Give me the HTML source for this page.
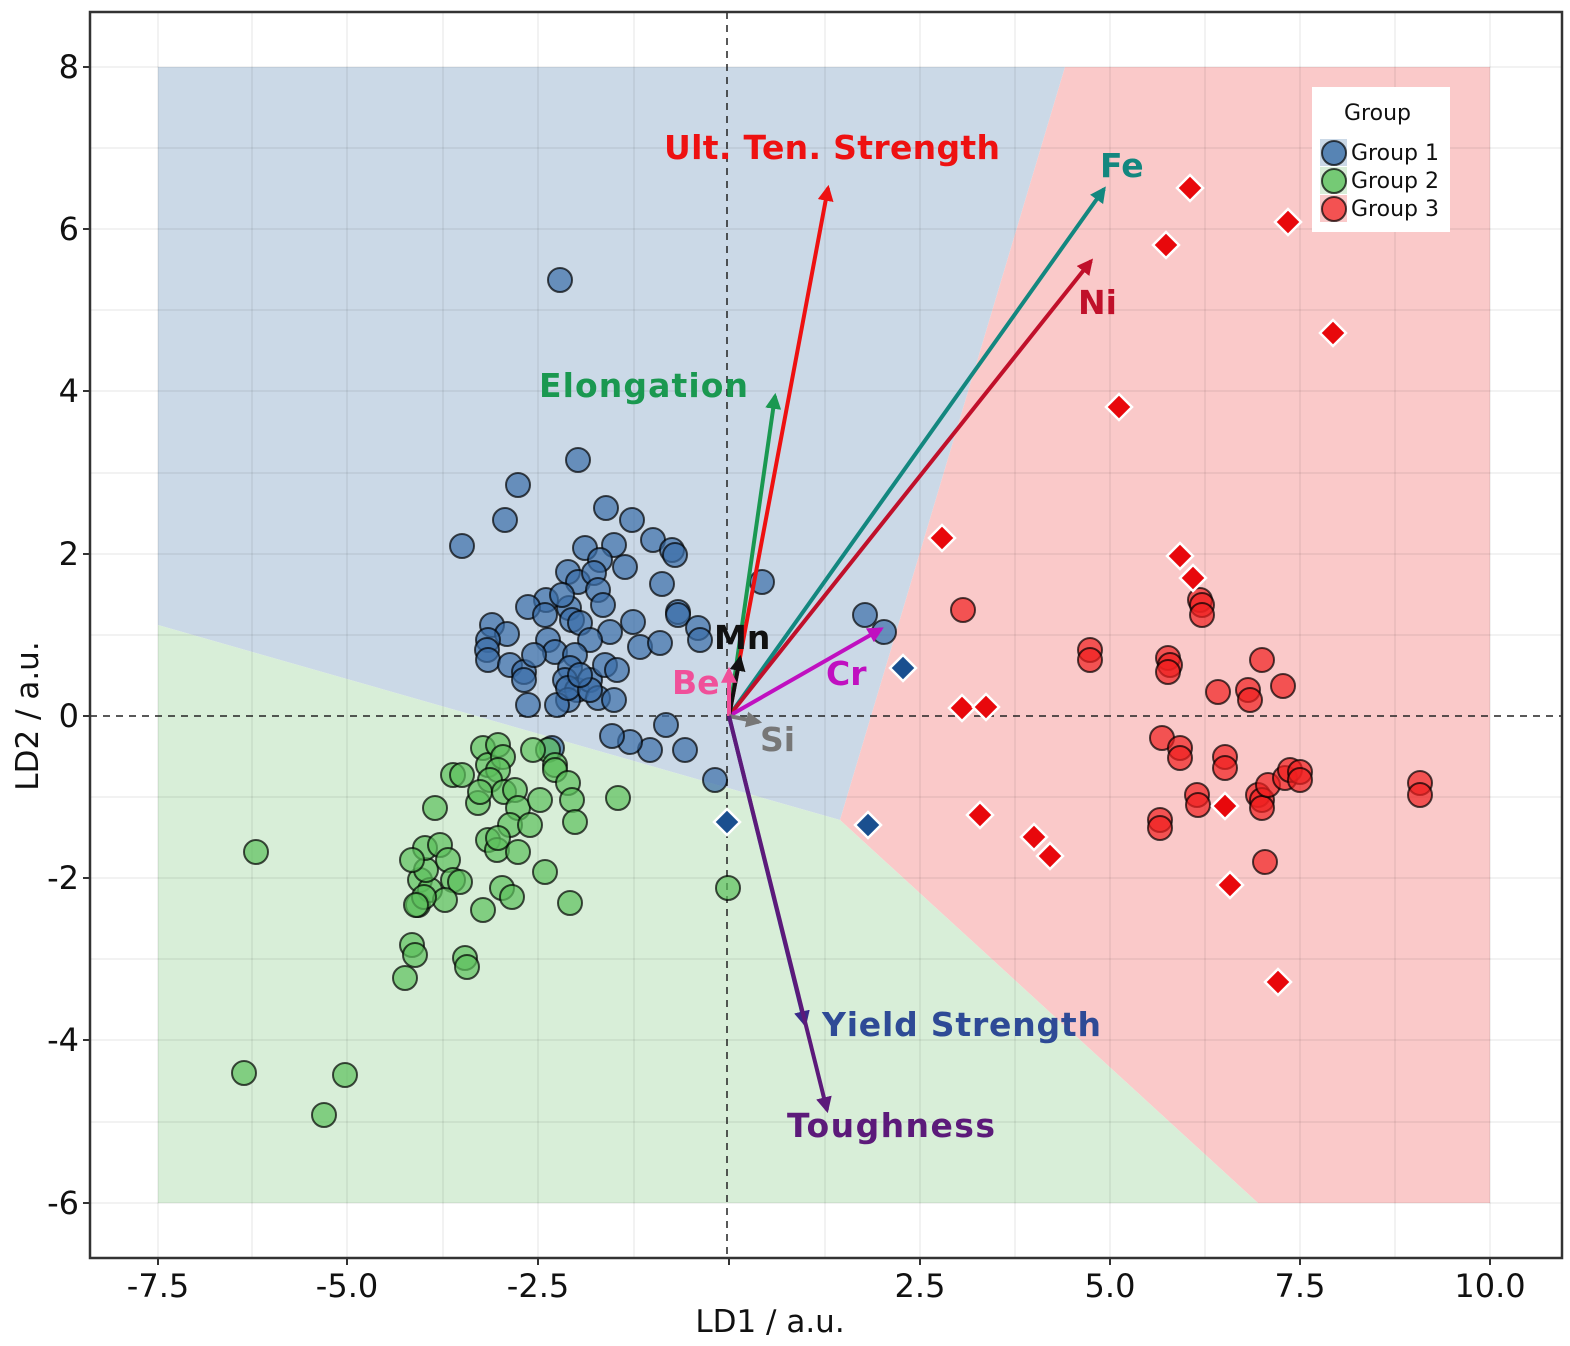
<!DOCTYPE html>
<html><head><meta charset="utf-8"><style>
body{margin:0;background:#fff}
svg text{font-family:"DejaVu Sans","Liberation Sans",sans-serif}
</style></head><body>
<svg width="1570" height="1341" viewBox="0 0 1570 1341" xmlns="http://www.w3.org/2000/svg">
<rect width="1570" height="1341" fill="#fff"/>
<polygon points="158,67 1065,67 840,820 158,625" fill="#cbd9e7"/>
<polygon points="1065,67 1490,67 1490,1203 1258,1203 840,820" fill="#fac9c9"/>
<polygon points="158,625 840,820 1258,1203 158,1203" fill="#d8eed8"/>
<g stroke="#000" stroke-opacity="0.07" stroke-width="1.5">
<line x1="158" y1="12" x2="158" y2="1258"/><line x1="252" y1="12" x2="252" y2="1258"/><line x1="347" y1="12" x2="347" y2="1258"/><line x1="443" y1="12" x2="443" y2="1258"/><line x1="538" y1="12" x2="538" y2="1258"/><line x1="634" y1="12" x2="634" y2="1258"/><line x1="825" y1="12" x2="825" y2="1258"/><line x1="920" y1="12" x2="920" y2="1258"/><line x1="1015" y1="12" x2="1015" y2="1258"/><line x1="1110" y1="12" x2="1110" y2="1258"/><line x1="1205" y1="12" x2="1205" y2="1258"/><line x1="1300" y1="12" x2="1300" y2="1258"/><line x1="1395" y1="12" x2="1395" y2="1258"/><line x1="1490" y1="12" x2="1490" y2="1258"/>
<line x1="90" y1="67" x2="1562" y2="67"/><line x1="90" y1="148" x2="1562" y2="148"/><line x1="90" y1="229" x2="1562" y2="229"/><line x1="90" y1="310" x2="1562" y2="310"/><line x1="90" y1="391" x2="1562" y2="391"/><line x1="90" y1="473" x2="1562" y2="473"/><line x1="90" y1="554" x2="1562" y2="554"/><line x1="90" y1="635" x2="1562" y2="635"/><line x1="90" y1="797" x2="1562" y2="797"/><line x1="90" y1="878" x2="1562" y2="878"/><line x1="90" y1="959" x2="1562" y2="959"/><line x1="90" y1="1040" x2="1562" y2="1040"/><line x1="90" y1="1122" x2="1562" y2="1122"/><line x1="90" y1="1203" x2="1562" y2="1203"/>
</g>
<line x1="727" y1="12" x2="727" y2="1258" stroke="#222" stroke-width="1.5" stroke-dasharray="7,6"/>
<line x1="90" y1="716" x2="1562" y2="716" stroke="#222" stroke-width="1.5" stroke-dasharray="7,6"/>
<g id="pts" stroke="#000" stroke-opacity="0.7" stroke-width="2">
<g fill="#3a6ea8" fill-opacity="0.7">
<circle cx="560" cy="280" r="12"/><circle cx="578" cy="460" r="12"/><circle cx="518" cy="485" r="12"/><circle cx="505" cy="520" r="12"/><circle cx="462" cy="546" r="12"/><circle cx="606" cy="508" r="12"/><circle cx="632" cy="520" r="12"/><circle cx="653" cy="540" r="12"/><circle cx="672" cy="550" r="12"/><circle cx="675" cy="555" r="12"/><circle cx="585" cy="548" r="12"/><circle cx="614" cy="545" r="12"/><circle cx="600" cy="560" r="12"/><circle cx="568" cy="572" r="12"/><circle cx="578" cy="582" r="12"/><circle cx="594" cy="573" r="12"/><circle cx="598" cy="590" r="12"/><circle cx="603" cy="605" r="12"/><circle cx="569" cy="608" r="12"/><circle cx="546" cy="600" r="12"/><circle cx="528" cy="607" r="12"/><circle cx="545" cy="615" r="12"/><circle cx="492" cy="625" r="12"/><circle cx="507" cy="634" r="12"/><circle cx="488" cy="640" r="12"/><circle cx="487" cy="650" r="12"/><circle cx="488" cy="660" r="12"/><circle cx="510" cy="665" r="12"/><circle cx="524" cy="672" r="12"/><circle cx="524" cy="680" r="12"/><circle cx="548" cy="640" r="12"/><circle cx="572" cy="620" r="12"/><circle cx="610" cy="632" r="12"/><circle cx="633" cy="622" r="12"/><circle cx="640" cy="647" r="12"/><circle cx="660" cy="643" r="12"/><circle cx="678" cy="612" r="12"/><circle cx="678" cy="615" r="12"/><circle cx="698" cy="628" r="12"/><circle cx="700" cy="640" r="12"/><circle cx="662" cy="584" r="12"/><circle cx="625" cy="567" r="12"/><circle cx="562" cy="595" r="12"/><circle cx="580" cy="623" r="12"/><circle cx="590" cy="640" r="12"/><circle cx="555" cy="652" r="12"/><circle cx="534" cy="655" r="12"/><circle cx="575" cy="655" r="12"/><circle cx="570" cy="668" r="12"/><circle cx="565" cy="680" r="12"/><circle cx="577" cy="690" r="12"/><circle cx="568" cy="700" r="12"/><circle cx="557" cy="705" r="12"/><circle cx="528" cy="705" r="12"/><circle cx="590" cy="680" r="12"/><circle cx="605" cy="665" r="12"/><circle cx="617" cy="670" r="12"/><circle cx="598" cy="698" r="12"/><circle cx="614" cy="700" r="12"/><circle cx="568" cy="688" r="12"/><circle cx="762" cy="582" r="12"/><circle cx="865" cy="615" r="12"/><circle cx="884" cy="632" r="12"/><circle cx="666" cy="725" r="12"/><circle cx="685" cy="750" r="12"/><circle cx="650" cy="750" r="12"/><circle cx="630" cy="742" r="12"/><circle cx="612" cy="736" r="12"/><circle cx="552" cy="748" r="12"/><circle cx="715" cy="780" r="12"/><circle cx="590" cy="690" r="12"/><circle cx="580" cy="675" r="12"/>
</g>
<g fill="#5cc05c" fill-opacity="0.7">
<circle cx="256" cy="852" r="12"/><circle cx="244" cy="1073" r="12"/><circle cx="345" cy="1075" r="12"/><circle cx="324" cy="1115" r="12"/><circle cx="405" cy="978" r="12"/><circle cx="412" cy="945" r="12"/><circle cx="415" cy="955" r="12"/><circle cx="420" cy="880" r="12"/><circle cx="418" cy="905" r="12"/><circle cx="430" cy="890" r="12"/><circle cx="426" cy="870" r="12"/><circle cx="425" cy="848" r="12"/><circle cx="412" cy="860" r="12"/><circle cx="440" cy="845" r="12"/><circle cx="448" cy="860" r="12"/><circle cx="453" cy="880" r="12"/><circle cx="460" cy="882" r="12"/><circle cx="435" cy="808" r="12"/><circle cx="453" cy="775" r="12"/><circle cx="462" cy="775" r="12"/><circle cx="483" cy="748" r="12"/><circle cx="488" cy="765" r="12"/><circle cx="498" cy="745" r="12"/><circle cx="503" cy="757" r="12"/><circle cx="498" cy="770" r="12"/><circle cx="490" cy="780" r="12"/><circle cx="478" cy="803" r="12"/><circle cx="480" cy="792" r="12"/><circle cx="504" cy="792" r="12"/><circle cx="515" cy="790" r="12"/><circle cx="518" cy="808" r="12"/><circle cx="510" cy="825" r="12"/><circle cx="488" cy="840" r="12"/><circle cx="497" cy="850" r="12"/><circle cx="498" cy="838" r="12"/><circle cx="518" cy="852" r="12"/><circle cx="530" cy="825" r="12"/><circle cx="540" cy="800" r="12"/><circle cx="548" cy="750" r="12"/><circle cx="533" cy="750" r="12"/><circle cx="555" cy="765" r="12"/><circle cx="555" cy="770" r="12"/><circle cx="568" cy="783" r="12"/><circle cx="572" cy="800" r="12"/><circle cx="575" cy="822" r="12"/><circle cx="545" cy="872" r="12"/><circle cx="570" cy="903" r="12"/><circle cx="502" cy="888" r="12"/><circle cx="512" cy="897" r="12"/><circle cx="483" cy="910" r="12"/><circle cx="445" cy="900" r="12"/><circle cx="424" cy="897" r="12"/><circle cx="416" cy="905" r="12"/><circle cx="465" cy="958" r="12"/><circle cx="467" cy="967" r="12"/><circle cx="618" cy="798" r="12"/><circle cx="728" cy="888" r="12"/>
</g>
<g fill="#f02020" fill-opacity="0.7">
<circle cx="963" cy="610" r="12"/><circle cx="1090" cy="650" r="12"/><circle cx="1090" cy="660" r="12"/><circle cx="1168" cy="658" r="12"/><circle cx="1170" cy="665" r="12"/><circle cx="1168" cy="672" r="12"/><circle cx="1200" cy="600" r="12"/><circle cx="1202" cy="605" r="12"/><circle cx="1202" cy="615" r="12"/><circle cx="1218" cy="692" r="12"/><circle cx="1262" cy="660" r="12"/><circle cx="1248" cy="690" r="12"/><circle cx="1250" cy="700" r="12"/><circle cx="1283" cy="686" r="12"/><circle cx="1162" cy="738" r="12"/><circle cx="1180" cy="748" r="12"/><circle cx="1180" cy="758" r="12"/><circle cx="1225" cy="757" r="12"/><circle cx="1225" cy="768" r="12"/><circle cx="1197" cy="795" r="12"/><circle cx="1198" cy="805" r="12"/><circle cx="1160" cy="820" r="12"/><circle cx="1160" cy="828" r="12"/><circle cx="1258" cy="795" r="12"/><circle cx="1262" cy="800" r="12"/><circle cx="1262" cy="808" r="12"/><circle cx="1268" cy="785" r="12"/><circle cx="1285" cy="778" r="12"/><circle cx="1290" cy="770" r="12"/><circle cx="1300" cy="772" r="12"/><circle cx="1300" cy="780" r="12"/><circle cx="1265" cy="862" r="12"/><circle cx="1420" cy="783" r="12"/><circle cx="1420" cy="795" r="12"/>
</g>
</g>
<g stroke="#fff" stroke-width="2.5" fill="#e8080c">
<path d="M1190,175 l13,13 -13,13 -13,-13z"/><path d="M1288,209 l13,13 -13,13 -13,-13z"/><path d="M1166,232 l13,13 -13,13 -13,-13z"/><path d="M1333,320 l13,13 -13,13 -13,-13z"/><path d="M1119,394 l13,13 -13,13 -13,-13z"/><path d="M942,525 l13,13 -13,13 -13,-13z"/><path d="M1180,543 l13,13 -13,13 -13,-13z"/><path d="M1193,565 l13,13 -13,13 -13,-13z"/><path d="M962,695 l13,13 -13,13 -13,-13z"/><path d="M986,694 l13,13 -13,13 -13,-13z"/><path d="M980,802 l13,13 -13,13 -13,-13z"/><path d="M1034,824 l13,13 -13,13 -13,-13z"/><path d="M1050,843 l13,13 -13,13 -13,-13z"/><path d="M1225,793 l13,13 -13,13 -13,-13z"/><path d="M1230,872 l13,13 -13,13 -13,-13z"/><path d="M1278,969 l13,13 -13,13 -13,-13z"/>
</g>
<g stroke="#fff" stroke-width="2.5" fill="#1a4f8f">
<path d="M903,655 l13,13 -13,13 -13,-13z"/><path d="M727,809 l13,13 -13,13 -13,-13z"/><path d="M868,812 l13,13 -13,13 -13,-13z"/>
</g>
<defs>
<marker id="ah" viewBox="0 0 10 10" refX="8" refY="5" markerWidth="4" markerHeight="4" orient="auto-start-reverse"><path d="M0,0 L10,5 L0,10z" fill="context-stroke"/></marker>
</defs>
<g stroke-width="4" fill="none">
<line x1="729" y1="716" x2="775" y2="396" stroke="#1a9850" marker-end="url(#ah)"/>
<line x1="729" y1="716" x2="828" y2="188" stroke="#ee1111" marker-end="url(#ah)"/>
<line x1="729" y1="716" x2="1104" y2="189" stroke="#13877f" marker-end="url(#ah)"/>
<line x1="729" y1="716" x2="1091" y2="261" stroke="#c0102a" marker-end="url(#ah)"/>
<line x1="729" y1="716" x2="881" y2="629" stroke="#c010c0" marker-end="url(#ah)"/>
<line x1="729" y1="716" x2="740" y2="658" stroke="#111" marker-end="url(#ah)"/>
<line x1="729" y1="716" x2="729" y2="670" stroke="#f0509a" marker-end="url(#ah)"/>
<line x1="729" y1="716" x2="759" y2="722" stroke="#777" marker-end="url(#ah)"/>
<line x1="729" y1="716" x2="805" y2="1024" stroke="#3a2a8a" marker-end="url(#ah)"/>
<line x1="729" y1="716" x2="827" y2="1110" stroke="#5c1a7a" marker-end="url(#ah)"/>
</g>
<g font-weight="bold" font-size="33">
<text x="664" y="159" fill="#ee1111" textLength="336">Ult. Ten. Strength</text>
<text x="539" y="397" fill="#1a9850" textLength="209">Elongation</text>
<text x="1100" y="177" fill="#13877f">Fe</text>
<text x="1078" y="314" fill="#c0102a">Ni</text>
<text x="714" y="649" fill="#111">Mn</text>
<text x="672" y="694" fill="#f0509a">Be</text>
<text x="826" y="685" fill="#c010c0">Cr</text>
<text x="760" y="751" fill="#777">Si</text>
<text x="822" y="1036" fill="#2e4a96" textLength="279">Yield Strength</text>
<text x="787" y="1137" fill="#5c1a7a" textLength="208">Toughness</text>
</g>
<rect x="1312" y="87" width="138" height="145" fill="#fff"/>
<text x="1344" y="120" font-size="22" fill="#111">Group</text>
<rect x="1320" y="139" width="27" height="27" fill="#cbd9e7"/><rect x="1320" y="167" width="27" height="27" fill="#d8eed8"/><rect x="1320" y="195" width="27" height="27" fill="#fac9c9"/>
<g stroke="#000" stroke-opacity="0.7" stroke-width="2">
<circle cx="1334" cy="153" r="12" fill="#3a6ea8" fill-opacity="0.8"/><circle cx="1334" cy="181" r="12" fill="#5cc05c" fill-opacity="0.8"/><circle cx="1334" cy="209" r="12" fill="#f02020" fill-opacity="0.7"/>
</g>
<g font-size="22" fill="#111"><text x="1351" y="160">Group 1</text><text x="1351" y="188">Group 2</text><text x="1351" y="216">Group 3</text></g>
<rect x="90" y="12" width="1472" height="1246" fill="none" stroke="#333" stroke-width="2.5"/>
<g stroke="#333" stroke-width="2">
<line x1="158" y1="1258" x2="158" y2="1265"/><line x1="347" y1="1258" x2="347" y2="1265"/><line x1="538" y1="1258" x2="538" y2="1265"/><line x1="729" y1="1258" x2="729" y2="1265"/><line x1="920" y1="1258" x2="920" y2="1265"/><line x1="1110" y1="1258" x2="1110" y2="1265"/><line x1="1300" y1="1258" x2="1300" y2="1265"/><line x1="1490" y1="1258" x2="1490" y2="1265"/>
<line x1="83" y1="67" x2="90" y2="67"/><line x1="83" y1="229" x2="90" y2="229"/><line x1="83" y1="391" x2="90" y2="391"/><line x1="83" y1="554" x2="90" y2="554"/><line x1="83" y1="716" x2="90" y2="716"/><line x1="83" y1="878" x2="90" y2="878"/><line x1="83" y1="1040" x2="90" y2="1040"/><line x1="83" y1="1203" x2="90" y2="1203"/>
</g>
<g font-size="32" fill="#111" text-anchor="middle">
<text x="158" y="1297">-7.5</text><text x="347" y="1297">-5.0</text><text x="538" y="1297">-2.5</text><text x="920" y="1297">2.5</text><text x="1110" y="1297">5.0</text><text x="1300" y="1297">7.5</text><text x="1490" y="1297">10.0</text>
</g>
<g font-size="32" fill="#111" text-anchor="end">
<text x="79" y="78">8</text><text x="79" y="240">6</text><text x="79" y="402">4</text><text x="79" y="565">2</text><text x="79" y="727">0</text><text x="79" y="889">-2</text><text x="79" y="1051">-4</text><text x="79" y="1214">-6</text>
</g>
<text x="770" y="1332" font-size="31" fill="#111" text-anchor="middle">LD1 / a.u.</text>
<text transform="translate(38,716) rotate(-90)" font-size="31" fill="#111" text-anchor="middle">LD2 / a.u.</text>
</svg>
</body></html>
